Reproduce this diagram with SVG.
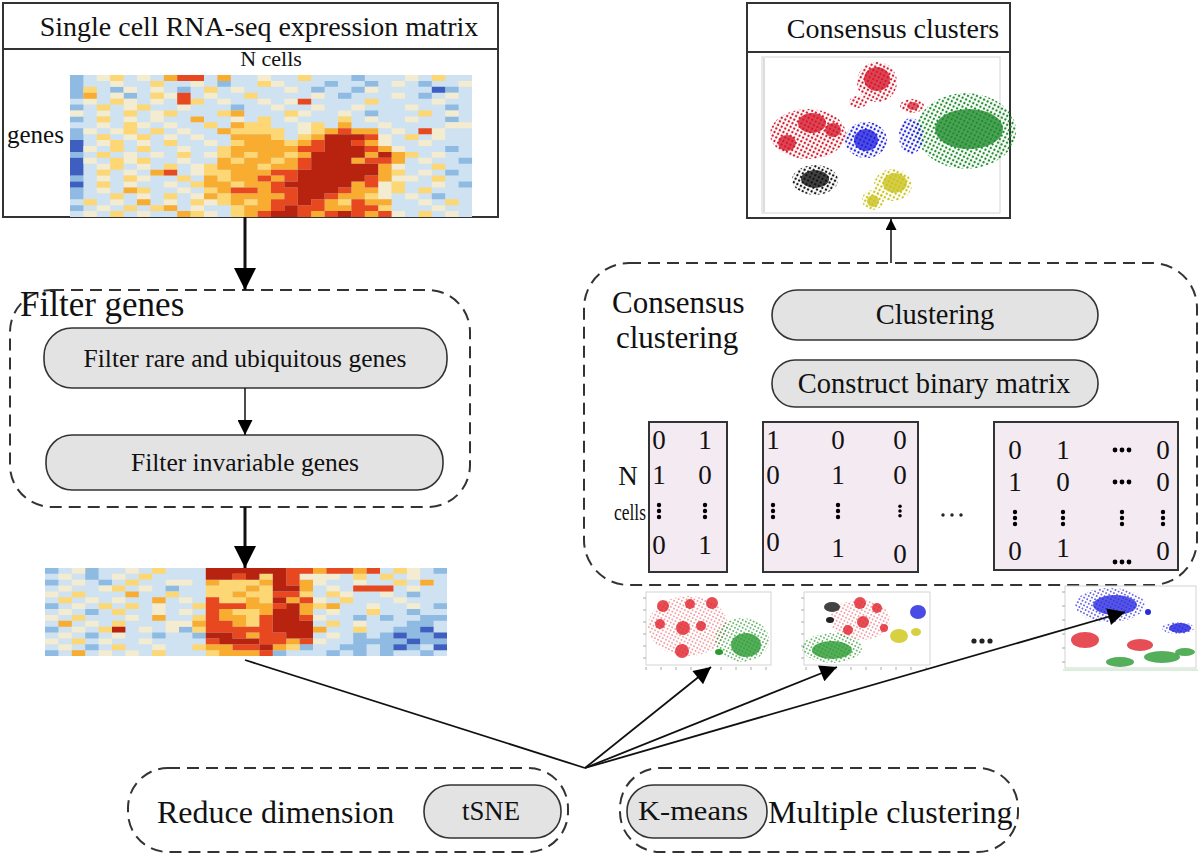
<svg xmlns="http://www.w3.org/2000/svg" width="1200" height="858" viewBox="0 0 1200 858">
<style>
.t{font-family:"Liberation Serif","Times New Roman",serif;fill:#111}
.m{text-anchor:middle}
.box{fill:#fff;stroke:#333;stroke-width:2}
.dash{fill:none;stroke:#333;stroke-width:2;stroke-dasharray:12 7}
.pill{fill:#e3e3e3;stroke:#333;stroke-width:1.6}
.mat{fill:#f4eaf2;stroke:#333;stroke-width:2}
.frame{fill:#fff;stroke:#d4d4d4;stroke-width:1}
.tick{stroke:#aaa;stroke-width:1;fill:none}
.hb{fill:#cfe2f1}
.cb{fill:#8fbbe3}.ck{fill:#3f5fc0}.cc{fill:#f3ecd0}.cy{fill:#fed775}.co{fill:#f9ad30}.cr{fill:#e8481f}.cd{fill:#b8230f}
.cn{stroke:#111;fill:none}
</style>
<defs>
<marker id="aBig" viewBox="0 0 20 20" markerWidth="24" markerHeight="22" refX="20" refY="10" orient="auto" markerUnits="userSpaceOnUse"><path d="M0 0L20 10L0 20z" fill="#000"/></marker>
<marker id="aMid" viewBox="0 0 20 20" markerWidth="15" markerHeight="15" refX="20" refY="10" orient="auto" markerUnits="userSpaceOnUse"><path d="M0 0L20 10L0 20z" fill="#000"/></marker>
<marker id="aSm" viewBox="0 0 20 20" markerWidth="12" markerHeight="11" refX="20" refY="10" orient="auto" markerUnits="userSpaceOnUse"><path d="M0 0L20 10L0 20z" fill="#000"/></marker>
<marker id="aDg" viewBox="0 0 20 20" markerWidth="20" markerHeight="17" refX="20" refY="10" orient="auto" markerUnits="userSpaceOnUse"><path d="M0 0L20 10L0 20z" fill="#000"/></marker>
<pattern id="pR" width="4" height="4" patternUnits="userSpaceOnUse" patternTransform="rotate(27)"><circle cx="2" cy="2" r="1.2" fill="#d4172a"/></pattern>
<pattern id="pB" width="4" height="4" patternUnits="userSpaceOnUse" patternTransform="rotate(27)"><circle cx="2" cy="2" r="1.2" fill="#2020dd"/></pattern>
<pattern id="pG" width="4" height="4" patternUnits="userSpaceOnUse" patternTransform="rotate(27)"><circle cx="2" cy="2" r="1.2" fill="#1e8b2c"/></pattern>
<pattern id="pK" width="4" height="4" patternUnits="userSpaceOnUse" patternTransform="rotate(27)"><circle cx="2" cy="2" r="1.2" fill="#111"/></pattern>
<pattern id="pY" width="4" height="4" patternUnits="userSpaceOnUse" patternTransform="rotate(27)"><circle cx="2" cy="2" r="1.2" fill="#c9c21c"/></pattern>
<pattern id="qR" width="3.5" height="3.5" patternUnits="userSpaceOnUse" patternTransform="rotate(27)"><circle cx="1.75" cy="1.75" r="0.8" fill="#e0202a"/></pattern>
<pattern id="qB" width="3.5" height="3.5" patternUnits="userSpaceOnUse" patternTransform="rotate(27)"><circle cx="1.75" cy="1.75" r="0.8" fill="#2a2ae0"/></pattern>
<pattern id="qG" width="3.5" height="3.5" patternUnits="userSpaceOnUse" patternTransform="rotate(27)"><circle cx="1.75" cy="1.75" r="0.8" fill="#2a9a30"/></pattern>
<g id="vd"><circle cx="0" cy="-6" r="2.2"/><circle cx="0" cy="0" r="2.2"/><circle cx="0" cy="6" r="2.2"/></g>
<g id="hd"><circle cx="-7" cy="0" r="2.4"/><circle cx="0" cy="0" r="2.4"/><circle cx="7" cy="0" r="2.4"/></g>
</defs>
<rect width="1200" height="858" fill="#fff"/>

<g id="expression-matrix">
<rect class="box" x="3" y="3" width="495" height="214"/>
<line x1="3" y1="49" x2="498" y2="49" stroke="#333" stroke-width="2"/>
<text class="t m" x="259" y="36" font-size="28">Single cell RNA-seq expression matrix</text>
<text class="t m" x="271" y="66" font-size="22">N cells</text>
<text class="t" x="7" y="143" font-size="25">genes</text>
<g transform="translate(70 75) scale(13.4 5.9167)">
<rect class="hb" width="30" height="24"/>
<path class="cb" d="M0 0h1v1h-1zM21 0h1v1h-1zM0 1h1v1h-1zM11 1h1v1h-1zM19 1h1v1h-1zM22 1h1v1h-1zM26 1h1v1h-1zM0 2h1v1h-1zM3 2h1v1h-1zM8 2h1v1h-1zM18 2h1v1h-1zM21 2h1v1h-1zM28 2h1v1h-1zM0 3h1v1h-1zM4 3h1v1h-1zM20 3h1v1h-1zM26 3h1v1h-1zM0 5h1v1h-1zM12 5h1v1h-1zM28 5h1v1h-1zM22 6h1v1h-1zM0 7h1v1h-1zM28 7h1v1h-1zM0 9h1v2h-1zM28 12h1v1h-1zM0 13h1v1h-1zM29 14h1v1h-1zM28 16h1v1h-1zM0 17h1v1h-1zM29 18h1v1h-1zM0 19h1v2h-1zM27 20h1v1h-1zM0 22h1v1h-1z"/>
<path class="ck" d="M27 2h1v1h-1zM0 11h1v2h-1zM0 14h1v3h-1zM0 18h1v1h-1z"/>
<path class="cc" d="M2 0h1v1h-1zM5 0h1v1h-1zM14 0h1v1h-1zM25 0h1v1h-1zM3 1h1v1h-1zM9 1h1v1h-1zM15 1h1v1h-1zM24 1h1v1h-1zM29 1h1v1h-1zM4 2h1v1h-1zM6 2h1v1h-1zM12 2h1v1h-1zM16 2h1v1h-1zM22 2h1v1h-1zM3 3h1v1h-1zM7 3h1v1h-1zM10 3h1v1h-1zM18 3h1v1h-1zM24 3h1v1h-1zM28 3h1v1h-1zM1 4h1v1h-1zM4 4h1v1h-1zM6 4h1v1h-1zM11 4h1v1h-1zM14 4h1v1h-1zM16 4h1v1h-1zM27 4h1v1h-1zM4 5h1v1h-1zM8 5h1v1h-1zM15 5h1v1h-1zM18 5h1v1h-1zM21 5h1v1h-1zM25 5h1v1h-1zM0 6h1v1h-1zM2 6h1v1h-1zM6 6h1v1h-1zM17 6h1v1h-1zM20 6h1v1h-1zM28 6h1v1h-1zM4 7h1v1h-1zM6 7h1v1h-1zM12 7h1v1h-1zM16 7h1v1h-1zM22 7h1v1h-1zM25 7h1v1h-1zM2 8h1v1h-1zM5 8h1v1h-1zM7 8h1v1h-1zM17 8h1v1h-1zM23 8h1v1h-1zM28 8h2v1h-2zM1 9h1v1h-1zM3 9h1v1h-1zM8 9h1v1h-1zM17 9h1v1h-1zM24 9h1v1h-1zM27 9h1v1h-1zM4 10h1v1h-1zM7 10h1v1h-1zM9 10h1v1h-1zM23 10h1v1h-1zM27 10h1v1h-1zM2 11h1v1h-1zM5 11h1v1h-1zM10 11h1v1h-1zM23 11h1v1h-1zM26 11h1v1h-1zM1 12h1v1h-1zM8 12h1v1h-1zM24 12h1v1h-1zM4 13h1v1h-1zM6 13h1v1h-1zM10 13h1v1h-1zM27 13h1v1h-1zM1 14h1v1h-1zM4 14h1v1h-1zM8 14h1v1h-1zM26 14h1v1h-1zM2 15h1v1h-1zM5 15h1v1h-1zM9 15h1v1h-1zM24 15h1v1h-1zM4 16h1v1h-1zM9 16h1v1h-1zM26 16h1v1h-1zM2 17h1v1h-1zM5 17h1v1h-1zM24 17h2v1h-2zM4 18h1v1h-1zM7 18h1v1h-1zM23 18h1v1h-1zM27 18h1v1h-1zM2 19h1v1h-1zM8 19h1v1h-1zM23 19h1v1h-1zM5 20h1v1h-1zM9 20h1v1h-1zM23 20h1v1h-1zM25 20h1v1h-1zM3 21h1v1h-1zM7 21h1v1h-1zM10 21h1v1h-1zM26 21h1v1h-1zM2 22h1v1h-1zM9 22h1v1h-1zM27 22h1v1h-1zM1 23h1v1h-1zM5 23h1v1h-1zM10 23h1v1h-1zM24 23h1v1h-1zM28 23h1v1h-1z"/>
<path class="cy" d="M3 0h1v1h-1zM17 0h1v1h-1zM27 0h1v1h-1zM6 1h1v1h-1zM14 1h1v1h-1zM1 2h1v1h-1zM10 2h1v1h-1zM6 3h1v1h-1zM13 3h1v1h-1zM3 4h1v1h-1zM9 4h1v1h-1zM22 4h1v1h-1zM2 5h1v1h-1zM5 5h1v1h-1zM4 6h1v1h-1zM7 6h1v1h-1zM11 6h1v1h-1zM16 6h1v1h-1zM26 6h1v1h-1zM2 7h1v1h-1zM14 7h1v1h-1zM20 7h1v1h-1zM4 8h1v1h-1zM10 8h1v1h-1zM13 8h2v1h-2zM18 8h1v1h-1zM4 9h1v1h-1zM6 9h1v1h-1zM12 9h4v1h-4zM18 9h1v1h-1zM2 10h1v1h-1zM5 10h1v1h-1zM15 10h1v1h-1zM17 10h1v1h-1zM25 10h1v1h-1zM3 11h1v1h-1zM7 11h1v1h-1zM12 11h1v1h-1zM16 11h1v1h-1zM3 12h1v1h-1zM5 12h1v1h-1zM11 12h1v1h-1zM2 13h1v1h-1zM8 13h1v1h-1zM11 13h1v1h-1zM13 13h1v1h-1zM16 13h1v1h-1zM25 13h1v1h-1zM3 14h1v1h-1zM5 14h1v1h-1zM12 14h1v1h-1zM15 14h1v1h-1zM3 15h1v1h-1zM7 15h1v1h-1zM10 15h1v1h-1zM14 15h1v1h-1zM27 15h1v1h-1zM2 16h1v1h-1zM10 16h2v1h-2zM24 16h1v1h-1zM4 17h1v1h-1zM8 17h1v1h-1zM11 17h1v1h-1zM27 17h1v1h-1zM2 18h1v1h-1zM9 18h1v1h-1zM12 18h1v1h-1zM24 18h1v1h-1zM5 19h1v1h-1zM10 19h1v1h-1zM24 19h1v1h-1zM26 19h1v1h-1zM3 20h1v1h-1zM7 20h1v1h-1zM11 20h1v1h-1zM22 20h1v1h-1zM1 21h1v1h-1zM9 21h1v1h-1zM11 21h1v1h-1zM13 21h1v1h-1zM20 21h1v1h-1zM28 21h1v1h-1zM4 22h1v1h-1zM6 22h1v1h-1zM12 22h1v1h-1zM23 22h1v1h-1zM3 23h1v1h-1zM9 23h1v1h-1zM12 23h1v1h-1zM26 23h1v1h-1z"/>
<path class="co" d="M7 0h1v1h-1zM11 0h1v1h-1zM1 3h1v1h-1zM12 6h1v1h-1zM9 7h1v1h-1zM12 8h1v1h-1zM20 8h1v1h-1zM11 9h1v1h-1zM19 9h1v1h-1zM21 9h2v1h-2zM12 10h3v1h-3zM18 10h1v1h-1zM13 11h3v1h-3zM17 11h1v1h-1zM22 11h1v1h-1zM12 12h5v1h-5zM23 12h1v1h-1zM12 13h1v1h-1zM14 13h2v1h-2zM17 13h1v1h-1zM22 13h1v1h-1zM24 13h1v1h-1zM11 14h1v1h-1zM13 14h2v1h-2zM16 14h1v1h-1zM21 14h1v1h-1zM24 14h1v1h-1zM11 15h3v1h-3zM15 15h2v1h-2zM23 15h1v1h-1zM6 16h1v1h-1zM12 16h3v1h-3zM23 16h1v1h-1zM10 17h1v1h-1zM12 17h2v1h-2zM15 17h1v1h-1zM23 17h1v1h-1zM10 18h2v1h-2zM13 18h2v1h-2zM21 18h1v1h-1zM4 19h1v1h-1zM11 19h1v1h-1zM14 19h1v1h-1zM21 19h2v1h-2zM10 20h1v1h-1zM12 20h4v1h-4zM20 20h2v1h-2zM5 21h1v1h-1zM12 21h1v1h-1zM14 21h1v1h-1zM19 21h1v1h-1zM22 21h2v1h-2zM7 22h1v1h-1zM13 22h2v1h-2zM19 22h2v1h-2zM8 23h1v1h-1zM13 23h1v1h-1zM18 23h1v1h-1zM22 23h1v1h-1z"/>
<path class="cr" d="M8 0h2v1h-2zM8 3h1v2h-1zM17 4h1v1h-1zM20 9h1v1h-1zM26 9h1v1h-1zM22 10h1v1h-1zM18 11h1v1h-1zM21 11h1v1h-1zM17 12h2v1h-2zM22 12h1v1h-1zM17 14h1v2h-1zM22 14h2v1h-2zM7 16h1v1h-1zM15 16h2v1h-2zM14 17h1v1h-1zM16 17h1v1h-1zM22 17h1v2h-1zM15 18h1v1h-1zM12 19h2v1h-2zM15 19h2v1h-2zM20 19h1v1h-1zM16 20h1v1h-1zM19 20h1v1h-1zM15 21h2v1h-2zM18 21h1v1h-1zM21 21h1v1h-1zM15 22h1v1h-1zM17 22h2v1h-2zM21 22h2v1h-2zM14 23h1v1h-1zM17 23h1v1h-1zM19 23h1v1h-1zM21 23h1v1h-1zM23 23h1v1h-1z"/>
<path class="cd" d="M19 10h3v1h-3zM19 11h2v1h-2zM19 12h3v1h-3zM18 13h4v1h-4zM23 13h1v1h-1zM18 14h3v1h-3zM18 15h5v1h-5zM17 16h6v1h-6zM17 17h5v1h-5zM16 18h5v1h-5zM17 19h3v1h-3zM17 20h2v1h-2zM17 21h1v1h-1zM16 22h1v1h-1zM15 23h2v1h-2zM20 23h1v1h-1z"/>
</g>
</g>

<g id="filter-genes">
<rect class="dash" x="10" y="290" width="460" height="217" rx="42"/>
<text class="t" x="20" y="316" font-size="35">Filter genes</text>
<rect class="pill" x="44" y="328" width="403" height="60" rx="28"/>
<text class="t m" x="245" y="367" font-size="25.5">Filter rare and ubiquitous genes</text>
<rect class="pill" x="46" y="435" width="397" height="55" rx="26"/>
<text class="t m" x="245" y="471" font-size="25.5">Filter invariable genes</text>
</g>

<g id="filtered-matrix">
<g transform="translate(45 568) scale(13.4 5.8667)">
<rect class="hb" width="30" height="15"/>
<path class="cb" d="M0 0h1v1h-1zM3 0h1v1h-1zM29 0h1v1h-1zM3 1h1v1h-1zM0 2h1v1h-1zM4 2h1v1h-1zM9 3h1v1h-1zM27 4h1v1h-1zM0 6h1v1h-1zM29 6h1v1h-1zM3 7h1v1h-1zM27 7h1v1h-1zM23 8h1v1h-1zM25 8h1v1h-1zM28 8h2v1h-2zM27 9h2v1h-2zM0 10h1v1h-1zM10 10h1v1h-1zM26 10h2v1h-2zM3 11h1v1h-1zM8 11h1v1h-1zM11 11h1v1h-1zM23 11h1v1h-1zM25 11h1v1h-1zM27 11h2v1h-2zM23 12h4v1h-4zM28 12h2v1h-2zM3 13h1v1h-1zM19 13h1v1h-1zM22 13h2v1h-2zM25 13h1v1h-1zM27 13h1v1h-1zM0 14h1v1h-1zM17 14h1v1h-1zM21 14h1v1h-1zM23 14h1v1h-1zM25 14h1v1h-1zM28 14h1v1h-1z"/>
<path class="ck" d="M28 10h1v1h-1zM26 11h1v1h-1zM29 11h1v1h-1zM27 12h1v1h-1zM26 13h1v1h-1zM29 13h1v1h-1z"/>
<path class="cc" d="M2 0h1v1h-1zM6 0h1v1h-1zM27 0h1v1h-1zM1 1h1v1h-1zM5 1h1v1h-1zM19 1h3v1h-3zM27 1h1v1h-1zM2 2h1v1h-1zM9 2h2v1h-2zM20 2h1v1h-1zM23 2h1v1h-1zM1 3h1v1h-1zM4 3h1v1h-1zM7 3h1v1h-1zM21 3h1v1h-1zM27 3h1v1h-1zM0 4h1v1h-1zM22 4h1v1h-1zM25 4h1v1h-1zM3 5h1v1h-1zM5 5h1v1h-1zM10 5h1v1h-1zM20 5h1v1h-1zM26 5h1v1h-1zM2 6h1v1h-1zM8 6h1v1h-1zM24 6h1v1h-1zM27 6h1v1h-1zM1 7h1v1h-1zM8 7h1v1h-1zM10 7h1v1h-1zM21 7h1v1h-1zM0 8h1v1h-1zM6 8h1v1h-1zM20 8h1v1h-1zM3 9h1v1h-1zM9 9h2v1h-2zM23 9h1v1h-1zM2 10h1v1h-1zM7 10h1v1h-1zM9 10h1v1h-1zM1 11h1v1h-1zM5 11h1v1h-1zM21 11h1v1h-1zM0 12h1v1h-1zM4 12h1v1h-1zM7 12h1v1h-1zM20 12h1v1h-1zM1 13h1v1h-1zM8 13h1v1h-1zM4 14h1v1h-1zM6 14h1v1h-1z"/>
<path class="cy" d="M8 0h1v1h-1zM26 0h1v1h-1zM7 1h1v1h-1zM16 1h1v1h-1zM23 1h1v1h-1zM25 1h1v1h-1zM6 2h1v1h-1zM13 2h3v1h-3zM26 2h1v1h-1zM5 3h1v1h-1zM12 3h3v1h-3zM16 3h1v1h-1zM2 4h1v1h-1zM9 4h1v1h-1zM12 4h2v1h-2zM15 4h2v1h-2zM19 4h1v1h-1zM21 4h1v1h-1zM1 5h1v1h-1zM13 5h2v1h-2zM16 5h1v1h-1zM22 5h1v1h-1zM4 6h1v1h-1zM6 6h1v1h-1zM11 6h1v1h-1zM20 6h1v1h-1zM5 7h1v1h-1zM14 7h2v1h-2zM24 7h1v1h-1zM2 8h1v1h-1zM11 8h1v1h-1zM15 8h1v1h-1zM5 9h1v1h-1zM15 9h1v1h-1zM21 9h1v1h-1zM4 10h1v1h-1zM11 10h1v1h-1zM23 10h1v1h-1zM2 12h1v1h-1zM5 13h1v1h-1zM11 13h1v1h-1zM18 13h1v1h-1zM8 14h1v1h-1zM12 14h1v1h-1z"/>
<path class="co" d="M20 0h1v1h-1zM23 0h1v1h-1zM12 2h1v1h-1zM16 2h1v1h-1zM19 2h1v1h-1zM28 2h1v1h-1zM15 3h1v1h-1zM19 3h1v1h-1zM6 4h1v1h-1zM14 4h1v1h-1zM8 5h1v1h-1zM15 5h1v1h-1zM18 5h1v1h-1zM15 6h2v1h-2zM19 6h1v1h-1zM21 6h1v1h-1zM13 7h1v1h-1zM16 7h1v1h-1zM19 7h1v1h-1zM8 8h1v1h-1zM13 8h2v1h-2zM1 9h1v1h-1zM11 9h1v1h-1zM14 9h1v1h-1zM20 10h1v1h-1zM15 11h1v1h-1zM18 12h1v1h-1zM12 13h2v1h-2zM17 13h1v1h-1zM2 14h1v1h-1zM13 14h3v1h-3z"/>
<path class="cr" d="M18 0h2v1h-2zM21 0h2v1h-2zM24 0h1v1h-1zM14 1h1v1h-1zM18 1h1v2h-1zM23 3h3v1h-3zM17 4h2v1h-2zM12 5h1v1h-1zM19 5h1v1h-1zM12 6h3v1h-3zM17 6h1v1h-1zM12 7h1v1h-1zM12 8h1v1h-1zM16 8h1v1h-1zM19 8h1v1h-1zM12 9h2v1h-2zM16 9h1v1h-1zM12 10h5v1h-5zM14 11h1v1h-1zM16 11h2v1h-2zM12 12h1v1h-1zM16 12h2v1h-2zM19 12h1v1h-1zM14 13h2v1h-2zM16 14h1v1h-1z"/>
<path class="cd" d="M12 0h6v1h-6zM12 1h2v1h-2zM15 1h1v1h-1zM17 1h1v3h-1zM18 3h1v1h-1zM17 5h1v1h-1zM18 6h1v1h-1zM17 7h2v2h-2zM17 9h3v2h-3zM5 10h1v1h-1zM12 11h2v1h-2zM18 11h2v1h-2zM13 12h3v1h-3zM16 13h1v1h-1z"/>
</g>
</g>

<g id="consensus-clusters">
<rect class="box" x="747" y="3" width="263" height="215"/>
<line x1="747" y1="52" x2="1010" y2="52" stroke="#333" stroke-width="2"/>
<text class="t m" x="893" y="38" font-size="28">Consensus clusters</text>
<rect class="frame" x="762" y="57" width="238" height="156"/>
<line x1="764" y1="58" x2="764" y2="212" stroke="#bbb"/>
<ellipse cx="966" cy="131" rx="50" ry="38" fill="url(#pG)"/>
<ellipse cx="969" cy="129" rx="34" ry="20" fill="#1e8b2c" opacity=".8"/>
<ellipse cx="877" cy="82" rx="20" ry="20" fill="url(#pR)"/>
<ellipse cx="877" cy="79" rx="13" ry="12" fill="#d4172a" opacity=".8"/>
<ellipse cx="858" cy="102" rx="9" ry="6" fill="url(#pR)"/>
<ellipse cx="912" cy="106" rx="12" ry="7" fill="url(#pR)"/>
<ellipse cx="913" cy="106" rx="6" ry="4" fill="#d4172a" opacity=".7"/>
<ellipse cx="808" cy="134" rx="38" ry="25" fill="url(#pR)"/>
<ellipse cx="812" cy="123" rx="14" ry="10" fill="#d4172a" opacity=".8"/>
<ellipse cx="833" cy="130" rx="8" ry="7" fill="#d4172a" opacity=".8"/>
<ellipse cx="787" cy="143" rx="9" ry="8" fill="#d4172a" opacity=".8"/>
<ellipse cx="866" cy="140" rx="21" ry="18" fill="url(#pB)"/>
<ellipse cx="866" cy="140" rx="12" ry="11" fill="#2020dd" opacity=".8"/>
<ellipse cx="911" cy="136" rx="12" ry="18" fill="url(#pB)"/>
<ellipse cx="815" cy="180" rx="23" ry="15" fill="url(#pK)"/>
<ellipse cx="815" cy="179" rx="14" ry="9" fill="#111" opacity=".8"/>
<ellipse cx="893" cy="185" rx="19" ry="16" fill="url(#pY)"/>
<ellipse cx="895" cy="183" rx="12" ry="10" fill="#c9c21c" opacity=".8"/>
<ellipse cx="873" cy="200" rx="11" ry="10" fill="url(#pY)"/>
<ellipse cx="873" cy="201" rx="6" ry="6" fill="#c9c21c" opacity=".8"/>
</g>

<g id="consensus-clustering">
<rect class="dash" x="584" y="263" width="613" height="322" rx="45"/>
<text class="t" x="612" y="313" font-size="31">Consensus</text>
<text class="t" x="616" y="348" font-size="31">clustering</text>
<rect class="pill" x="772" y="290" width="326" height="50" rx="25"/>
<text class="t m" x="935" y="324" font-size="28.5">Clustering</text>
<rect class="pill" x="772" y="360" width="326" height="47" rx="23"/>
<text class="t m" x="934" y="393" font-size="28.5">Construct binary matrix</text>
<text class="t m" x="628" y="485" font-size="27">N</text>
<text class="t" x="614" y="520" font-size="23" textLength="32" lengthAdjust="spacingAndGlyphs">cells</text>
<rect class="mat" x="649" y="422" width="78" height="150"/>
<g class="t" font-size="27" text-anchor="middle">
<text x="659" y="449">0</text><text x="705" y="449">1</text>
<text x="659" y="484">1</text><text x="705" y="484">0</text>
<text x="659" y="554">0</text><text x="705" y="554">1</text>
</g>
<use href="#vd" x="659" y="511"/><use href="#vd" x="705" y="511"/>
<rect class="mat" x="763" y="422" width="155" height="150"/>
<g class="t" font-size="27" text-anchor="middle">
<text x="773" y="449">1</text><text x="838" y="449">0</text><text x="900" y="449">0</text>
<text x="773" y="484">0</text><text x="838" y="484">1</text><text x="900" y="484">0</text>
<text x="773" y="551">0</text><text x="838" y="557">1</text><text x="900" y="563">0</text>
</g>
<use href="#vd" x="773" y="511"/><use href="#vd" x="838" y="511"/>
<g transform="translate(900 511) scale(.8)"><use href="#vd"/></g>
<g fill="#222"><circle cx="943" cy="515" r="1.7"/><circle cx="952" cy="515" r="1.7"/><circle cx="961" cy="515" r="1.7"/></g>
<rect class="mat" x="994" y="422" width="184" height="148"/>
<g class="t" font-size="27" text-anchor="middle">
<text x="1015" y="459">0</text><text x="1063" y="459">1</text><text x="1163" y="459">0</text>
<text x="1015" y="491">1</text><text x="1063" y="491">0</text><text x="1163" y="491">0</text>
<text x="1015" y="560">0</text><text x="1063" y="557">1</text><text x="1163" y="560">0</text>
</g>
<use href="#hd" x="1122" y="450"/><use href="#hd" x="1122" y="482"/><use href="#hd" x="1122" y="562"/>
<use href="#vd" x="1015" y="518"/><use href="#vd" x="1063" y="518"/><use href="#vd" x="1122" y="518"/><use href="#vd" x="1163" y="518"/>
</g>

<g id="clustering-results">
<g id="plot1">
<rect class="frame" x="646" y="592" width="125" height="73"/>
<path class="tick" d="M646 667v3M661 667v3M676 667v3M691 667v3M706 667v3M721 667v3M736 667v3M751 667v3M766 667v3M643 598h3M643 610h3M643 622h3M643 634h3M643 646h3M643 658h3"/>
<ellipse cx="688" cy="626" rx="40" ry="30" fill="url(#qR)" opacity=".6"/>
<circle cx="663" cy="606" r="6" fill="#e0202a" opacity=".8"/>
<circle cx="690" cy="604" r="5" fill="#e0202a" opacity=".8"/>
<circle cx="712" cy="603" r="6" fill="#e0202a" opacity=".8"/>
<circle cx="660" cy="624" r="5" fill="#e0202a" opacity=".8"/>
<circle cx="683" cy="628" r="7" fill="#e0202a" opacity=".8"/>
<circle cx="701" cy="626" r="5" fill="#e0202a" opacity=".8"/>
<circle cx="682" cy="651" r="7" fill="#e0202a" opacity=".8"/>
<ellipse cx="742" cy="640" rx="27" ry="22" fill="url(#qG)"/>
<ellipse cx="746" cy="645" rx="15" ry="12" fill="#2a9a30" opacity=".8"/>
<ellipse cx="719" cy="652" rx="4" ry="3" fill="#2a9a30"/>
</g>
<g id="plot2">
<rect class="frame" x="804" y="592" width="126" height="73"/>
<path class="tick" d="M806 667v3M821 667v3M836 667v3M851 667v3M866 667v3M881 667v3M896 667v3M911 667v3M926 667v3M801 598h3M801 610h3M801 622h3M801 634h3M801 646h3M801 658h3"/>
<ellipse cx="860" cy="620" rx="30" ry="20" fill="url(#qR)" opacity=".6"/>
<ellipse cx="832" cy="607" rx="8" ry="5" fill="#222" opacity=".85"/>
<ellipse cx="830" cy="620" rx="4" ry="3" fill="#222"/>
<circle cx="860" cy="603" r="6" fill="#e0202a" opacity=".8"/>
<circle cx="877" cy="608" r="5" fill="#e0202a" opacity=".8"/>
<circle cx="863" cy="622" r="6" fill="#e0202a" opacity=".8"/>
<circle cx="848" cy="630" r="5" fill="#e0202a" opacity=".8"/>
<circle cx="884" cy="628" r="4" fill="#e0202a" opacity=".8"/>
<ellipse cx="918" cy="612" rx="8" ry="7" fill="#2a2ae0" opacity=".85"/>
<ellipse cx="899" cy="636" rx="9" ry="7" fill="#d0c820" opacity=".85"/>
<ellipse cx="916" cy="632" rx="5" ry="4" fill="#d0c820" opacity=".85"/>
<ellipse cx="832" cy="648" rx="30" ry="15" fill="url(#qG)"/>
<ellipse cx="832" cy="650" rx="20" ry="9" fill="#2a9a30" opacity=".8"/>
</g>
<g fill="#222"><circle cx="974" cy="641" r="2.6"/><circle cx="982" cy="641" r="2.6"/><circle cx="990" cy="641" r="2.6"/></g>
<g id="plot3">
<rect class="frame" x="1065" y="586" width="131" height="82"/>
<line x1="1063" y1="670" x2="1198" y2="670" stroke="#b4e0b4" stroke-width="1.2"/>
<path class="tick" d="M1062 592h3M1062 606h3M1062 620h3M1062 634h3M1062 648h3M1062 662h3"/>
<ellipse cx="1110" cy="605" rx="35" ry="17" fill="url(#qB)"/>
<ellipse cx="1115" cy="605" rx="22" ry="10" fill="#2a2ae0" opacity=".8"/>
<ellipse cx="1178" cy="628" rx="16" ry="6" fill="url(#qB)"/>
<ellipse cx="1180" cy="628" rx="11" ry="5" fill="#2a2ae0" opacity=".85"/>
<circle cx="1148" cy="612" r="3" fill="#2a2ae0"/>
<ellipse cx="1085" cy="640" rx="14" ry="8" fill="#e0202a" opacity=".8"/>
<ellipse cx="1140" cy="645" rx="13" ry="6" fill="#e0202a" opacity=".8"/>
<ellipse cx="1162" cy="657" rx="18" ry="6" fill="#2a9a30" opacity=".8"/>
<ellipse cx="1120" cy="662" rx="14" ry="5" fill="#2a9a30" opacity=".8"/>
<ellipse cx="1185" cy="652" rx="10" ry="4" fill="#2a9a30" opacity=".8"/>
</g>
</g>

<g id="reduce-dimension">
<rect class="dash" x="128" y="768" width="440" height="84" rx="40"/>
<text class="t" x="157" y="823" font-size="32">Reduce dimension</text>
<rect class="pill" x="424" y="785" width="137" height="53" rx="26"/>
<text class="t" x="462" y="820" font-size="28" textLength="58" lengthAdjust="spacingAndGlyphs">tSNE</text>
</g>

<g id="multiple-clustering">
<rect class="dash" x="620" y="768" width="398" height="84" rx="40"/>
<rect class="pill" x="627" y="785" width="140" height="53" rx="26"/>
<text class="t" x="638" y="820" font-size="27" textLength="110" lengthAdjust="spacingAndGlyphs">K-means</text>
<text class="t" x="768" y="823" font-size="32">Multiple clustering</text>
</g>

<g id="connectors">
<line class="cn" x1="245" y1="217" x2="245" y2="290" stroke-width="3" marker-end="url(#aBig)"/>
<line class="cn" x1="245" y1="388" x2="245" y2="435" stroke-width="1.5" marker-end="url(#aMid)"/>
<line class="cn" x1="245" y1="507" x2="245" y2="568" stroke-width="3" marker-end="url(#aBig)"/>
<line class="cn" x1="891" y1="263" x2="891" y2="219" stroke-width="1.5" marker-end="url(#aSm)"/>
<line class="cn" x1="245" y1="660" x2="585" y2="768" stroke-width="1.8"/>
<line class="cn" x1="585" y1="768" x2="711" y2="667" stroke-width="1.8" marker-end="url(#aDg)"/>
<line class="cn" x1="585" y1="768" x2="837" y2="667" stroke-width="1.8" marker-end="url(#aDg)"/>
<line class="cn" x1="585" y1="768" x2="1125" y2="612" stroke-width="1.8" marker-end="url(#aDg)"/>
</g>
</svg>
